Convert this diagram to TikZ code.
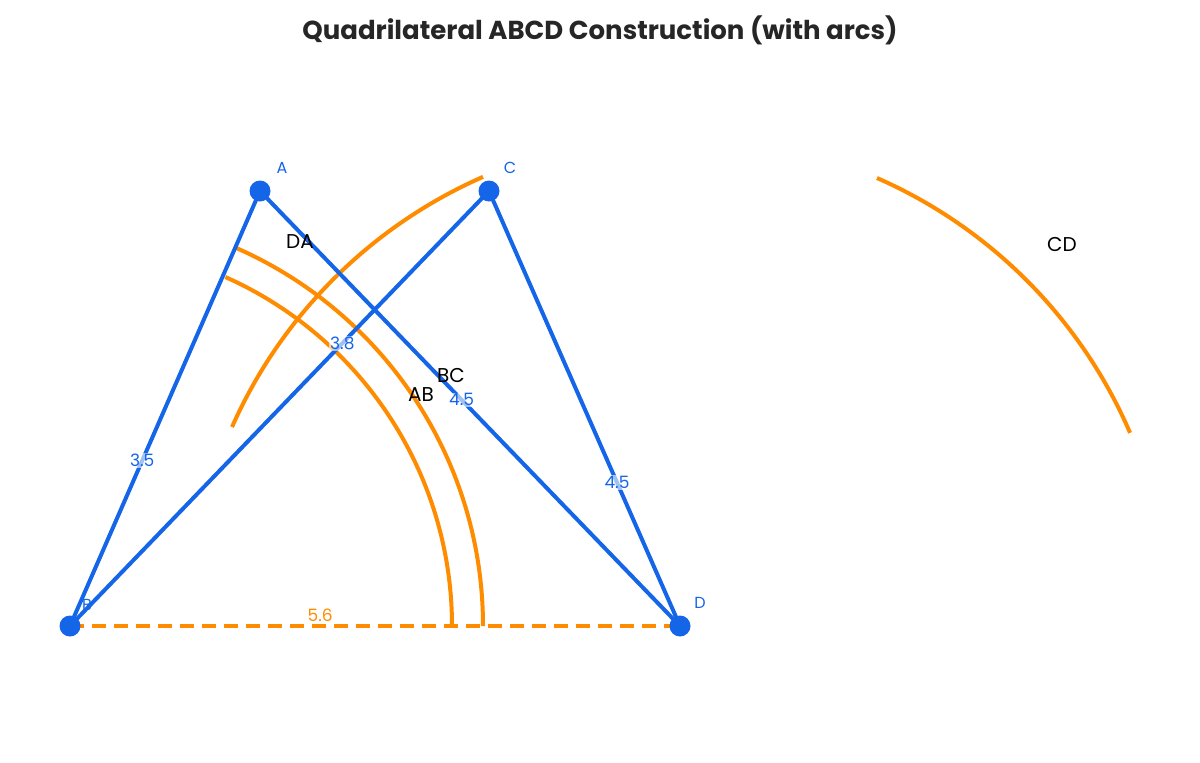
\documentclass[tikz,border=0pt]{standalone}
\usepackage{fontspec}
\setmainfont{Poppins}
\begin{document}
\begin{tikzpicture}[x=1pt,y=-1pt,
  pt/.style={circle,fill=blue1,inner sep=0pt,minimum size=21pt},
  edge/.style={blue1,line width=4pt},
  arcs/.style={orange1,line width=4pt},
  lbl/.style={blue1,font=\fontsize{16}{16}\selectfont},
  elbl/.style={text=#1,fill=white,fill opacity=0.6,text opacity=1,inner sep=1pt,font=\fontsize{17}{17}\selectfont},
  alb/.style={black,font=\fontsize{20}{20}\selectfont}]
\definecolor{blue1}{HTML}{1565E8}
\definecolor{orange1}{HTML}{FF8C00}
\useasboundingbox (0,0) rectangle (1200,763);
\node[font=\bfseries\fontsize{26}{26}\selectfont,text=black!85] (t) at (600,30) {Quadrilateral ABCD Construction (with arcs)};
\coordinate (B) at (70,626);
\coordinate (D) at (680,626);
\coordinate (A) at (260,191);
\coordinate (C) at (489,191);
% arcs
\draw[arcs] (483,626) arc[start angle=0,end angle=66.3,x radius=413,y radius=-413];
\draw[arcs] (452,626) arc[start angle=0,end angle=66,x radius=382,y radius=-382];
\draw[arcs] (232,427) arc[start angle=156.1,end angle=113.7,x radius=490,y radius=-490];
\draw[arcs] (877,178) arc[start angle=66.3,end angle=23.3,x radius=490,y radius=-490];
% edges
\draw[arcs,dash pattern=on 14pt off 8pt] (B) -- node[elbl=orange1,pos=0.41,yshift=11pt]{5.6} (D);
\draw[edge] (B) -- node[elbl=blue1,pos=0.38]{3.5} (A);
\draw[edge] (B) -- node[elbl=blue1,pos=0.65]{3.8} (C);
\draw[edge] (A) -- node[elbl=blue1,pos=0.48]{4.5} (D);
\draw[edge] (C) -- node[elbl=blue1,pos=0.67]{4.5} (D);
\node[pt] (nA) at (A) {};
\node[pt] (nB) at (B) {};
\node[pt] (nC) at (C) {};
\node[pt] (nD) at (D) {};
\node[lbl] (lA) at (282,168) {A};
\node[lbl] (lB) at (87,605) {B};
\node[lbl] (lC) at (510,168) {C};
\node[lbl] (lD) at (700,603) {D};
\node[alb] (DA) at (300,242) {DA};
\node[alb] (AB) at (421,395) {AB};
\node[alb] (BC) at (451,375) {BC};
\node[alb] (CD) at (1062,244) {CD};
\end{tikzpicture}
\end{document}
